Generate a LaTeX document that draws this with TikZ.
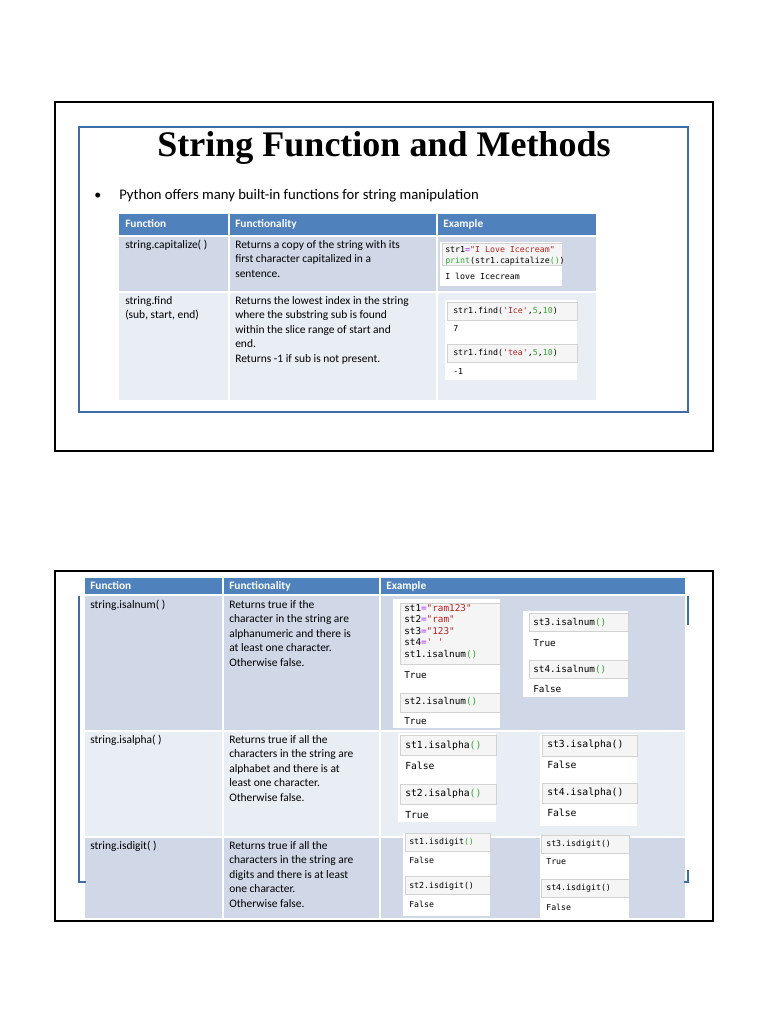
\documentclass[tikz,border=0pt]{standalone}
\usepackage{fontspec}
\setmainfont{Carlito}
\newfontfamily\titlefont{Liberation Serif}
\setmonofont{DejaVu Sans Mono}
\definecolor{hdr}{HTML}{4F81BD}
\definecolor{rowa}{HTML}{D0D8E8}
\definecolor{rowb}{HTML}{E9EDF4}
\definecolor{frameblue}{HTML}{3F6DAA}
\definecolor{cgreen}{HTML}{33AA33}
\definecolor{cred}{HTML}{BA2121}
\definecolor{cpurp}{HTML}{AA22FF}
\newcommand{\gp}[1]{\textcolor{cgreen}{#1}}
\newcommand{\rd}[1]{\textcolor{cred}{#1}}
\newcommand{\pu}[1]{\textcolor{cpurp}{#1}}
\tikzset{
 hdrtext/.style={anchor=west,text=white,font=\fontsize{8.5}{10}\selectfont\bfseries,inner sep=0},
 bodytext/.style={anchor=north west,align=left,font=\fontsize{8.6}{10.9}\selectfont,inner sep=0},
 code/.style={anchor=west,inner sep=0,font=\ttfamily\fontsize{6.2}{8.2}\selectfont},
 whitebox/.style={fill=white,draw=none},
 cellbox/.style={fill=gray!8,draw=gray!35,line width=0.3pt},
 sep/.style={draw=white,line width=1pt}
}
\begin{document}
\begin{tikzpicture}[x=0.75pt,y=-0.75pt]
\useasboundingbox (0,0) rectangle (768,1024);
% ---------- slide 1 ----------
\draw[black,line width=0.8pt] (55,102) rectangle (713,451);
\draw[frameblue,line width=0.8pt] (79,127) rectangle (688,412);
\node[font=\titlefont\fontsize{27}{30}\selectfont\bfseries] (title) at (384,148) {String Function and Methods};
\node[anchor=west,inner sep=0,font=\fontsize{10.5}{12}\selectfont] (bul) at (94,196) {\textbullet};
\node[anchor=west,inner sep=0,font=\fontsize{11}{13}\selectfont] (bt) at (119,196) {Python offers many built-in functions for string manipulation};
\fill[hdr] (119,214) rectangle (596,236);
\fill[rowa] (119,236) rectangle (596,292);
\fill[rowb] (119,292) rectangle (596,400);
\draw[sep] (119,236) -- (596,236) (119,292) -- (596,292) (229,214) -- (229,400) (437,214) -- (437,400);
\node[hdrtext] (h1) at (125,224) {Function};
\node[hdrtext] (h2) at (235,224) {Functionality};
\node[hdrtext] (h3) at (443,224) {Example};
\node[bodytext] (f1) at (125,240) {string.capitalize( )};
\node[bodytext] (d1) at (235,240) {Returns a copy of the string with its\\first character capitalized in a\\sentence.};
\node[bodytext] (f2) at (125,296) {string.find\\(sub, start, end)};
\node[bodytext] (d2) at (235,296) {Returns the lowest index in the string\\where the substring sub is found\\within the slice range of start and\\end.\\Returns -1 if sub is not present.};
\fill[whitebox] (440,242) rectangle (562,286);
\draw[cellbox] (442,243) rectangle (562,265);
\node[code,align=left,anchor=north west] (c1) at (445,246) {str1\pu{=}\rd{"I Love Icecream"}\\\gp{print}(str1.capitalize\gp{()})};
\node[code] (o1) at (445,276) {I love Icecream};
\fill[whitebox] (445,300) rectangle (577,380);
\draw[cellbox] (447,302) rectangle (577,320);
\node[code] (c2) at (453,311) {str1.find(\rd{'Ice'},\gp{5},\gp{10})};
\node[code] (o2) at (453,328) {7};
\draw[cellbox] (447,344) rectangle (577,362);
\node[code] (c3) at (453,353) {str1.find(\rd{'tea'},\gp{5},\gp{10})};
\node[code] (o3) at (453,371) {-1};
% ---------- slide 2 ----------
\draw[black,line width=0.8pt] (55,571) rectangle (713,921);
\fill[hdr] (85,578) rectangle (685,595);
\fill[rowa] (85,595) rectangle (685,731);
\fill[rowb] (85,731) rectangle (685,837);
\fill[rowa] (85,837) rectangle (685,918);
\draw[frameblue,line width=0.9pt] (688,596) -- (688,625);
\draw[frameblue,line width=0.9pt] (79,596) -- (79,882) -- (86,882);
\draw[frameblue,line width=0.9pt] (684,882) -- (688,882) -- (688,870);
\draw[sep] (85,595) -- (685,595) (85,731) -- (685,731) (85,837) -- (685,837) (223,578) -- (223,918) (380,578) -- (380,918);
\node[hdrtext] (k1) at (90,586) {Function};
\node[hdrtext] (k2) at (229,586) {Functionality};
\node[hdrtext] (k3) at (386,586) {Example};
\node[bodytext] (g1) at (90,600) {string.isalnum( )};
\node[bodytext] (e1) at (229,600) {Returns true if the\\character in the string are\\alphanumeric and there is\\at least one character.\\Otherwise false.};
\node[bodytext] (g2) at (90,735) {string.isalpha( )};
\node[bodytext] (e2) at (229,735) {Returns true if all the\\characters in the string are\\alphabet and there is at\\least one character.\\Otherwise false.};
\node[bodytext] (g3) at (90,841) {string.isdigit( )};
\node[bodytext] (e3) at (229,841) {Returns true if all the\\characters in the string are\\digits and there is at least\\one character.\\Otherwise false.};
% isalnum
\fill[whitebox] (393,599) rectangle (500,728);
\draw[cellbox] (400,603) rectangle (500,664);
\node[code,align=left,anchor=north west,font=\ttfamily\fontsize{7}{8.6}\selectfont] (a1) at (404,604) {st1\pu{=}\rd{"ram123"}\\st2\pu{=}\rd{"ram"}\\st3\pu{=}\rd{"123"}\\st4\pu{=}\rd{' '}\\st1.isalnum\gp{()}};
\node[code,font=\ttfamily\fontsize{7}{8}\selectfont] (a2) at (404,675) {True};
\draw[cellbox] (400,693) rectangle (500,712);
\node[code,font=\ttfamily\fontsize{7}{8}\selectfont] (a3) at (404,702) {st2.isalnum\gp{()}};
\node[code,font=\ttfamily\fontsize{7}{8}\selectfont] (a4) at (404,721) {True};
\fill[whitebox] (523,611) rectangle (628,697);
\draw[cellbox] (529,613) rectangle (628,631);
\node[code,font=\ttfamily\fontsize{7}{8}\selectfont] (b1) at (533,623) {st3.isalnum\gp{()}};
\node[code,font=\ttfamily\fontsize{7}{8}\selectfont] (b2) at (533,643) {True};
\draw[cellbox] (529,660) rectangle (628,678);
\node[code,font=\ttfamily\fontsize{7}{8}\selectfont] (b3) at (533,670) {st4.isalnum\gp{()}};
\node[code,font=\ttfamily\fontsize{7}{8}\selectfont] (b4) at (533,689) {False};
% isalpha
\fill[whitebox] (398,733) rectangle (496,822);
\draw[cellbox] (400,735) rectangle (496,755);
\node[code,font=\ttfamily\fontsize{7.3}{8}\selectfont] (p1) at (405,746) {st1.isalpha\gp{()}};
\node[code,font=\ttfamily\fontsize{7.3}{8}\selectfont] (p2) at (405,766) {False};
\draw[cellbox] (400,784) rectangle (496,804);
\node[code,font=\ttfamily\fontsize{7.3}{8}\selectfont] (p3) at (405,794) {st2.isalpha\gp{()}};
\node[code,font=\ttfamily\fontsize{7.3}{8}\selectfont] (p4) at (405,815) {True};
\fill[whitebox] (540,734) rectangle (637,826);
\draw[cellbox] (542,735) rectangle (637,756);
\node[code,font=\ttfamily\fontsize{7.3}{8}\selectfont] (q1) at (547,745) {st3.isalpha()};
\node[code,font=\ttfamily\fontsize{7.3}{8}\selectfont] (q2) at (547,765) {False};
\draw[cellbox] (542,783) rectangle (637,803);
\node[code,font=\ttfamily\fontsize{7.3}{8}\selectfont] (q3) at (547,793) {st4.isalpha()};
\node[code,font=\ttfamily\fontsize{7.3}{8}\selectfont] (q4) at (547,813) {False};
% isdigit
\fill[whitebox] (403,833) rectangle (490,916);
\draw[cellbox] (405,833) rectangle (490,851);
\node[code] (r1) at (409,842) {st1.isdigit\gp{()}};
\node[code] (r2) at (409,860) {False};
\draw[cellbox] (405,876) rectangle (490,894);
\node[code] (r3) at (409,886) {st2.isdigit()};
\node[code] (r4) at (409,904) {False};
\fill[whitebox] (540,835) rectangle (629,918);
\draw[cellbox] (541,835) rectangle (629,853);
\node[code] (s1) at (546,844) {st3.isdigit()};
\node[code] (s2) at (546,862) {True};
\draw[cellbox] (541,879) rectangle (629,897);
\node[code] (s3) at (546,888) {st4.isdigit()};
\node[code] (s4) at (546,907) {False};
\end{tikzpicture}
\end{document}
